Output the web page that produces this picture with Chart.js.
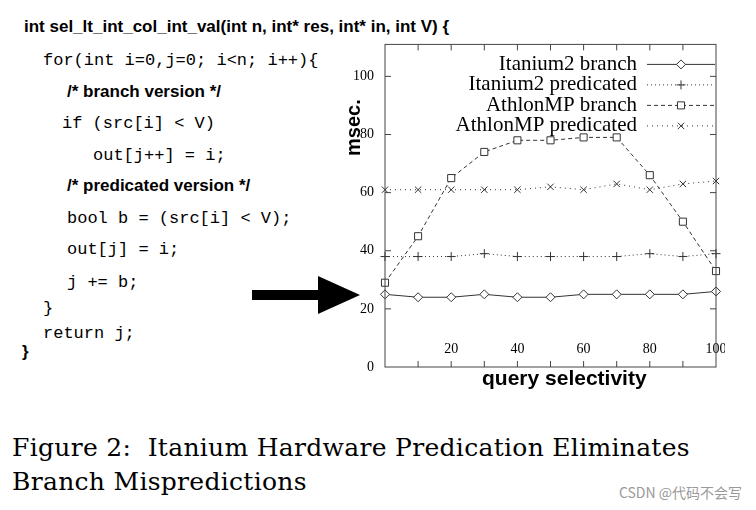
<!DOCTYPE html>
<html>
<head>
<meta charset="utf-8">
<script src="https://cdn.jsdelivr.net/npm/chart.js@4"></script>
<style>
  body { margin: 0; width: 756px; height: 510px; background: #fff; position: relative; overflow: hidden; }
  .t { position: absolute; white-space: pre; color: #000; }
  .code { font-family: "Liberation Mono", "DejaVu Sans Mono", monospace; font-size: 17px; }
  .cm { font-family: "Liberation Sans", Arial, sans-serif; font-weight: bold; font-size: 17px; }
  .cap { font-family: "DejaVu Serif", serif; font-size: 25px; letter-spacing: 0.3px; }
  #wrap { position: absolute; left: 345px; top: 33px; width: 380px; height: 347px; }
</style>
</head>
<body>
<div class="t cm" style="left:24px;top:17px">int sel_lt_int_col_int_val(int n, int* res, int* in, int V) {</div>
<div class="t code" style="left:43px;top:51px">for(int i=0,j=0; i&lt;n; i++){</div>
<div class="t cm" style="left:67px;top:82px">/* branch version */</div>
<div class="t code" style="left:62px;top:114px">if (src[i] &lt; V)</div>
<div class="t code" style="left:93px;top:146px">out[j++] = i;</div>
<div class="t cm" style="left:67px;top:176px">/* predicated version */</div>
<div class="t code" style="left:67px;top:209px">bool b = (src[i] &lt; V);</div>
<div class="t code" style="left:67px;top:240px">out[j] = i;</div>
<div class="t code" style="left:67px;top:273px">j += b;</div>
<div class="t code" style="left:43px;top:299px">}</div>
<div class="t code" style="left:43px;top:324px">return j;</div>
<div class="t cm" style="left:22px;top:342px">}</div>

<svg style="position:absolute;left:250px;top:270px" width="112" height="50">
  <rect x="2" y="20" width="66" height="10" fill="#000"/>
  <polygon points="68,6 110,25 68,44" fill="#000"/>
</svg>

<div id="wrap"><canvas id="c"></canvas></div>
<div class="t cm" style="left:342px;font-size:20px;transform:rotate(-90deg);transform-origin:0 0;top:156px;">msec.</div>
<div class="t cm" style="left:482px;top:366px;font-size:21px">query selectivity</div>

<div class="t cap" style="left:12px;top:433px">Figure 2:  Itanium Hardware Predication Eliminates</div>
<div class="t cap" style="left:12px;top:467px">Branch Mispredictions</div>
<div class="t" style="right:14px;top:482px;font-family:'Noto Sans CJK SC',sans-serif;font-size:14px;color:#999">CSDN @代码不会写</div>

<script>
const selectivity = [0, 10, 20, 30, 40, 50, 60, 70, 80, 90, 100];
const itaniumBranch = [25, 24, 24, 25, 24, 24, 25, 25, 25, 25, 26];
const itaniumPred = [38, 38, 38, 39, 38, 38, 38, 38, 39, 38, 39];
const athlonBranch = [29, 45, 65, 74, 78, 78, 79, 79, 66, 50, 33];
const athlonPred = [61, 61, 61, 61, 61, 62, 61, 63, 61, 63, 64];
const seriesNames = ["Itanium2 branch", "Itanium2 predicated", "AthlonMP branch", "AthlonMP predicated"];
const xTicks = [20, 40, 60, 80, 100];
const yTicks = [0, 20, 40, 60, 80, 100];

const ink = "#333";
const styles = [
  { pointStyle: "rectRot", dash: [], radius: 4.5 },
  { pointStyle: "cross", dash: [1, 3], radius: 4.5 },
  { pointStyle: "rect", dash: [4, 3], radius: 5 },
  { pointStyle: "crossRot", dash: [1, 4], radius: 4.5 }
];
const values = [itaniumBranch, itaniumPred, athlonBranch, athlonPred];

const datasets = values.map((v, i) => ({
  label: seriesNames[i],
  data: v.map((y, k) => ({ x: selectivity[k], y: y })),
  borderColor: ink,
  borderWidth: 1,
  borderDash: styles[i].dash,
  pointStyle: styles[i].pointStyle,
  pointRadius: styles[i].radius,
  pointBackgroundColor: "#fff",
  pointBorderColor: ink,
  pointBorderWidth: 1,
  clip: false
}));

// frame, inward ticks, x labels inside the plot, and legend
const framePlugin = {
  id: "frame",
  afterDraw(chart) {
    const c = chart.ctx, a = chart.chartArea;
    const xs = chart.scales.x, ys = chart.scales.y;
    c.save();
    c.strokeStyle = "#444";
    c.lineWidth = 1;
    c.strokeRect(a.left, a.top, a.right - a.left, a.bottom - a.top);
    c.beginPath();
    [10, 20, 30, 40, 50, 60, 70, 80, 90].forEach(v => {
      const px = xs.getPixelForValue(v);
      c.moveTo(px, a.bottom); c.lineTo(px, a.bottom - 6);
      c.moveTo(px, a.top); c.lineTo(px, a.top + 6);
    });
    [20, 40, 60, 80, 100].forEach(v => {
      const py = ys.getPixelForValue(v);
      c.moveTo(a.left, py); c.lineTo(a.left + 6, py);
      c.moveTo(a.right, py); c.lineTo(a.right - 6, py);
    });
    c.stroke();

    c.font = "14px 'Liberation Serif', serif";
    c.fillStyle = "#000";
    c.textAlign = "center";
    c.textBaseline = "middle";
    xs.ticks.forEach(t => {
      c.fillText(String(t.value), xs.getPixelForValue(t.value), a.bottom - 18);
    });

    // legend
    c.font = "21px 'Liberation Serif', serif";
    c.textAlign = "right";
    seriesNames.forEach((name, i) => {
      const y = a.top + 20 + i * 20.5;
      c.fillStyle = "#000";
      c.fillText(name, a.left + 252, y);
      c.setLineDash(styles[i].dash);
      c.strokeStyle = ink;
      c.beginPath();
      c.moveTo(a.left + 262, y); c.lineTo(a.left + 330, y);
      c.stroke();
      c.setLineDash([]);
      c.fillStyle = "#fff";
      Chart.helpers.drawPoint(c, { pointStyle: styles[i].pointStyle, radius: styles[i].radius, borderWidth: 1 }, a.left + 296, y);
    });
    c.restore();
  }
};

new Chart(document.getElementById("c"), {
  type: "line",
  data: { datasets: datasets },
  options: {
    responsive: true,
    maintainAspectRatio: false,
    animation: false,
    layout: { padding: { top: 10, right: 9, left: 0, bottom: 0 } },
    plugins: { legend: { display: false }, tooltip: { enabled: false } },
    scales: {
      x: {
        type: "linear", min: 0, max: 100,
        afterFit: s => { s.height = 13; },
        afterBuildTicks: s => { s.ticks = xTicks.map(v => ({ value: v })); },
        grid: { display: false },
        border: { display: false },
        ticks: { display: false }
      },
      y: {
        min: 0, max: 111,
        afterFit: s => { s.width = 40; },
        afterBuildTicks: s => { s.ticks = yTicks.map(v => ({ value: v })); },
        grid: { display: false },
        border: { display: false },
        ticks: { padding: 3, color: "#000", font: { family: "Liberation Serif", size: 14 } }
      }
    }
  },
  plugins: [framePlugin]
});
</script>
</body>
</html>
